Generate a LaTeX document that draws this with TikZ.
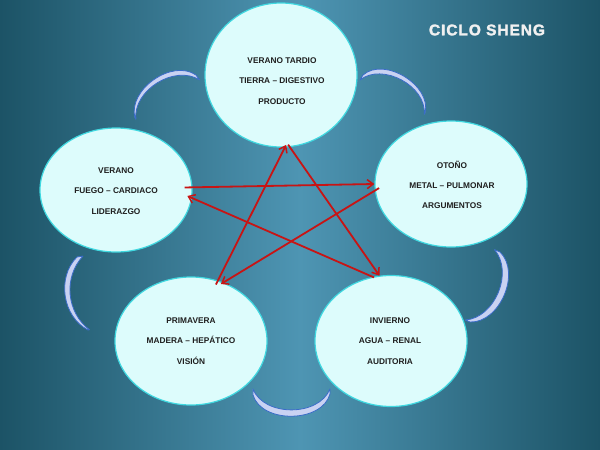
\documentclass[tikz,border=0pt]{standalone}
\usepackage{fontspec}
\setmainfont{Liberation Sans}
\usetikzlibrary{shapes.geometric,arrows.meta,calc}
\definecolor{bgdark}{HTML}{1C5366}
\definecolor{bgmid}{HTML}{4E95B3}
\definecolor{ellfill}{HTML}{DDFCFC}
\definecolor{elldraw}{HTML}{3FD8E0}
\definecolor{starred}{HTML}{C81414}
\definecolor{crfill}{HTML}{C9D2F2}
\definecolor{crdraw}{HTML}{3A6CC8}
% #1,#2 end points; #3 outer bend; #4 inner bend; #5,#6 widths at ends
\newcommand\crescentshape[6]{%
  \path[crescentstyle] (#1) to[bend left=#3] (#2)
    -- ($(#2)!#6!90:(#1)$)
    to[bend right=#4] ($(#1)!#5!-90:(#2)$) -- cycle;}
\begin{document}
\begin{tikzpicture}[x=1pt,y=-1pt,
  phase/.style={ellipse, draw=elldraw, line width=1.2pt, fill=ellfill, inner sep=0pt},
  phasetext/.style={font=\bfseries\fontsize{8.3}{20.2}\selectfont, align=center, text=black!88},
  starline/.style={draw=starred, line width=1.8pt, -{Straight Barb[length=6pt,width=9pt,line width=1.5pt]}},
  crescentstyle/.style={fill=crfill, draw=crdraw, line width=0.8pt, line join=round}]
\useasboundingbox (0,0) rectangle (600,450);
\shade[left color=bgdark, right color=bgdark, middle color=bgmid] (0,0) rectangle (600,450);

% crescent arrows
\coordinate (c1a) at (135,118); \coordinate (c1b) at (196,75);
\coordinate (c2a) at (363,75);  \coordinate (c2b) at (425,113);
\coordinate (c3a) at (500,252); \coordinate (c3b) at (470,322);
\coordinate (c4a) at (330,394); \coordinate (c4b) at (253,395);
\coordinate (c5a) at (88,330);  \coordinate (c5b) at (77,257);
\crescentshape{c1a}{c1b}{70}{64}{1.5pt}{6pt}
\crescentshape{c2a}{c2b}{73}{67}{6pt}{1.5pt}
\crescentshape{c3a}{c3b}{69}{63}{6pt}{5pt}
\crescentshape{c4a}{c4b}{74}{68}{5pt}{6pt}
\crescentshape{c5a}{c5b}{54}{48}{1.5pt}{6pt}

% phases
\node[phase, minimum width=152pt, minimum height=144pt] (e1) at (281,75) {};
\node[phase, minimum width=152pt, minimum height=126pt] (e2) at (451,184) {};
\node[phase, minimum width=152pt, minimum height=131pt] (e3) at (391,341) {};
\node[phase, minimum width=152pt, minimum height=128pt] (e4) at (191,341) {};
\node[phase, minimum width=152pt, minimum height=124pt] (e5) at (116,190) {};

\node[phasetext] (t1) at (282,81) {VERANO TARDIO\\TIERRA – DIGESTIVO\\PRODUCTO};
\node[phasetext] (t2) at (452,185) {OTOÑO\\METAL – PULMONAR\\ARGUMENTOS};
\node[phasetext] (t3) at (390,341) {INVIERNO\\AGUA – RENAL\\AUDITORIA};
\node[phasetext] (t4) at (191,341) {PRIMAVERA\\MADERA – HEPÁTICO\\VISIÓN};
\node[phasetext] (t5) at (116,191) {VERANO\\FUEGO – CARDIACO\\LIDERAZGO};

% star (control cycle)
\draw[starline, shorten <=-8pt] (e5.2) -- (e2.180);
\draw[starline, shorten <=-5pt, shorten >=-3pt] (e2.185.5) -- (e4.61);
\draw[starline, shorten <=-4.5pt, shorten >=-3pt] (e4.66.5) -- (e1.273);
\draw[starline, shorten <=-3pt] (e1.277) -- (e3.100.3);
\draw[starline, shorten <=-1.5pt, shorten >=-5pt] (e3.106.5) -- (e5.354.8);

% title
\node[text=white!94!black, font=\bfseries\fontsize{15.5}{16}\selectfont\addfontfeature{LetterSpace=6,FakeBold=2}] (title) at (487,30)
  {CICLO SHENG};
\end{tikzpicture}
\end{document}
